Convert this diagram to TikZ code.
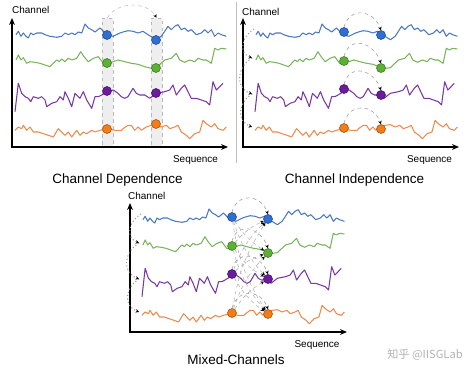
\documentclass[tikz,border=0pt]{standalone}
\usepackage{fontspec}
\setmainfont{Liberation Sans}
\newfontfamily\cjkfont{Noto Sans CJK SC}
\usepackage{tikz}
\usetikzlibrary{arrows.meta}

\definecolor{lblue}{HTML}{4A78C2}
\definecolor{lgreen}{HTML}{78B45A}
\definecolor{lpurple}{HTML}{7838A6}
\definecolor{lorange}{HTML}{EE8A4C}
\definecolor{dblue}{HTML}{2F6FD4}
\definecolor{dgreen}{HTML}{5CB034}
\definecolor{dpurple}{HTML}{6A1C9C}
\definecolor{dorange}{HTML}{F27C18}

\newcommand{\serB}{(1,34.7) -- (3.3,31.3) -- (6,36.3) -- (8.3,33) -- (11,36.3) -- (13.3,38) -- (15.7,33) -- (18.3,34.7) -- (21.7,33) -- (26.7,33) -- (30,34.7) -- (35,36.3) -- (41.7,37.3) -- (46.7,36.3) -- (50,33) -- (53.3,34.7) -- (56.7,33) -- (60,34.7) -- (63.3,32) -- (66.7,33) -- (70,24) -- (73.3,28) -- (76.7,29.7) -- (80,32) -- (85,28) -- (92,35) -- (98,36.3) -- (105,33) -- (108,32) -- (113,30.7) -- (118,31.3) -- (123,33) -- (128,31.3) -- (133,34.7) -- (141.3,39.7) -- (146.3,36.3) -- (149.7,31.3) -- (153,26.3) -- (156.3,29.7) -- (159.7,26.3) -- (163,24.7) -- (166.3,29.7) -- (169.7,28) -- (173,31.3) -- (176.3,29.7) -- (181.3,34.7) -- (186.3,33) -- (189.7,29.7) -- (193,33) -- (196.3,29.7) -- (199.7,36.3) -- (203,33) -- (206.3,34.7) -- (211.3,36.3)}
\newcommand{\serG}{(1,60) -- (3.3,55) -- (6,60) -- (8.3,57.7) -- (11.7,63.3) -- (15,61.7) -- (20,62.3) -- (25,63.3) -- (30,65) -- (35,66.7) -- (38.3,63.3) -- (41.7,60) -- (44.3,61.7) -- (46.7,59) -- (50,61.7) -- (53.3,58.3) -- (56.7,60) -- (61.7,58.3) -- (65.7,51.7) -- (69,56.7) -- (73.3,61.7) -- (78.3,58.3) -- (83.3,56.7) -- (88.3,63.3) -- (92.3,63.3) -- (98,61.7) -- (103,60) -- (109.7,61.7) -- (116.3,63.3) -- (123,64.3) -- (129.7,66.7) -- (136.3,68.3) -- (141.3,67.7) -- (149.7,60) -- (156.3,58.3) -- (161.3,53.3) -- (164.7,60) -- (169.7,62.3) -- (174.7,60) -- (179.7,61.7) -- (183,58.3) -- (188,60) -- (191.3,60) -- (196.3,63.3) -- (199.7,48.3) -- (203,50) -- (206.3,48.3) -- (211.3,49)}
\newcommand{\serP}{(0,111.7) -- (3.3,83.3) -- (6.7,93.3) -- (10,96.7) -- (13.3,98.3) -- (15.7,101.7) -- (18.3,96.7) -- (23.3,98.3) -- (26.7,96.7) -- (30,100) -- (31.7,106.7) -- (36.7,103.3) -- (41.7,101.7) -- (45,96.7) -- (48.3,100) -- (50,91.7) -- (53.3,98.3) -- (56.7,106.7) -- (60,93.3) -- (65,98.3) -- (68.3,91.7) -- (71.7,100) -- (76.7,108.3) -- (80,96.7) -- (83.3,96.7) -- (86.7,95) -- (92.3,91.7) -- (98.3,90) -- (103,93.3) -- (106.3,96.7) -- (109.7,98.3) -- (113,96.7) -- (118,88.3) -- (121.3,93.3) -- (124.7,95) -- (129.7,95) -- (134.7,98.3) -- (141.3,93.3) -- (149.7,91.7) -- (154.7,90) -- (158,85) -- (161.3,95) -- (166.3,88.3) -- (169.7,85) -- (173,91.7) -- (176.3,98.3) -- (181.3,98.3) -- (186.3,100) -- (191.3,101.7) -- (194.7,105) -- (198,81.7) -- (201.3,90) -- (204.7,86.7) -- (208,83.3)}
\newcommand{\serO}{(0,130.3) -- (3.3,127) -- (6.7,128.7) -- (8.3,125.3) -- (11.7,130.3) -- (15,127) -- (18.3,132) -- (23.3,132) -- (28.3,133.7) -- (33.3,135.3) -- (38.3,137) -- (43.3,128.7) -- (46.7,132) -- (50,135.3) -- (53.3,132) -- (56.7,137) -- (61.7,130.3) -- (65,135.3) -- (68.3,132) -- (71.7,133.7) -- (76.7,130.3) -- (80,132) -- (85,130.3) -- (92.3,128.7) -- (100,130.3) -- (106.7,130.3) -- (108,128.7) -- (113,125.3) -- (116.3,125.3) -- (119.7,130.3) -- (123,127) -- (126.3,130.3) -- (131.3,127) -- (136.3,125.3) -- (141.3,124.7) -- (146.3,127) -- (151.3,125.3) -- (154.7,128.7) -- (159.7,127) -- (163,125.3) -- (166.3,132) -- (171.3,135.3) -- (174.7,138.7) -- (179.7,133.7) -- (184.7,132) -- (188,120.3) -- (191.3,123.7) -- (196.3,127) -- (199.7,123.7) -- (203,128.7) -- (208,130.3) -- (211.3,127)}

\newcommand{\drawseries}[1]{%
  \draw[lineB] \serB;
  \draw[lineG] \serG;
  \draw[lineP] \serP;
  \draw[lineO] \serO;
  \coordinate (#1B) at (-1,29);
  \coordinate (#1G) at (-3,58);
  \coordinate (#1P) at (-3,94);
  \coordinate (#1O) at (-3,127);
}

\begin{document}
\begin{tikzpicture}[x=0.03cm,y=-0.03cm,
    axis/.style={line width=0.9pt,arrows={Stealth[length=6pt,width=5pt]-Stealth[length=6pt,width=5pt]}},
    lineB/.style={draw=lblue,line width=0.9pt,line join=round},
    lineG/.style={draw=lgreen,line width=0.9pt,line join=round},
    lineP/.style={draw=lpurple,line width=0.9pt,line join=round},
    lineO/.style={draw=lorange,line width=0.9pt,line join=round},
    dot/.style={circle,inner sep=0pt,minimum size=0.27cm,line width=0.5pt},
    dotB/.style={dot,fill=dblue,draw=dblue!70!black},
    dotG/.style={dot,fill=dgreen,draw=dgreen!70!black},
    dotP/.style={dot,fill=dpurple,draw=dpurple!70!black},
    dotO/.style={dot,fill=dorange,draw=dorange!70!black},
    col/.style={draw=gray!55,dashed,fill=gray!13,minimum width=0.33cm,minimum height=3.87cm,inner sep=0pt},
    hop/.style={draw=gray!75,dashed,line width=0.5pt,-{Stealth[length=3pt,width=3pt,black]}},
    chain/.style={draw=gray!80,dotted,line width=0.9pt,looseness=1.3,-{Stealth[length=3pt,width=3pt,black]}},
    lab/.style={font=\fontsize{8.5}{10}\selectfont,inner sep=0pt},
    title/.style={font=\fontsize{11.5}{14}\selectfont,inner sep=0pt}]

  \useasboundingbox (0,0) rectangle (474,374);

  \node[col] (dc1) at (107.5,82.5) {};
  \node[col] (dc2) at (156.5,82.5) {};
  \coordinate (dy) at (12,18);
  \coordinate (dx) at (228,147);
  \draw[axis] (dy) |- (dx);
  \begin{scope}[shift={(15,0)}]
    \drawseries{d}
  \end{scope}
  \node[dotB] (dB1) at (107,35) {};
  \node[dotG] (dG1) at (107,63) {};
  \node[dotP] (dP1) at (107,91) {};
  \node[dotO] (dO1) at (107,129) {};
  \node[dotB] (dB2) at (156,40) {};
  \node[dotG] (dG2) at (156,68) {};
  \node[dotP] (dP2) at (156,93) {};
  \node[dotO] (dO2) at (156,124) {};
  \draw[hop,draw=gray!50] (dc1.north) to[out=60,in=120] (dc2.north);
  \node[lab,anchor=west] (dch) at (12,10) {Channel};
  \node[lab] (dseq) at (195.5,160) {Sequence};
  \node[title] (dcap) at (117.5,180) {Channel Dependence};

  \coordinate (sepT) at (236,2);
  \coordinate (sepB) at (236,163);
  \draw[gray!50,line width=0.6pt] (sepT) -- (sepB);

  \coordinate (iy) at (243,18);
  \coordinate (ix) at (459,147);
  \draw[axis] (iy) |- (ix);
  \begin{scope}[shift={(255,0)},xscale=0.958]
    \drawseries{i}
  \end{scope}
  \draw[chain] (iB) to[out=210,in=160] (iG);
  \draw[chain] (iG) to[out=210,in=160] (iP);
  \draw[chain] (iP) to[out=210,in=160] (iO);
  \node[dotB] (iB1) at (344,32) {};
  \node[dotG] (iG1) at (344,61) {};
  \node[dotP] (iP1) at (344,89) {};
  \node[dotO] (iO1) at (344,128) {};
  \node[dotB] (iB2) at (381,35) {};
  \node[dotG] (iG2) at (381,68) {};
  \node[dotP] (iP2) at (381,95) {};
  \node[dotO] (iO2) at (381,129) {};
  \foreach \c in {B,G,P,O}
    \draw[hop] (i\c1.north) to[out=75,in=110,looseness=1.5] (i\c2.north);
  \node[lab,anchor=west] (ich) at (242,12) {Channel};
  \node[lab] (iseq) at (429.5,160) {Sequence};
  \node[title] (icap) at (354.5,180) {Channel Independence};

  \coordinate (my) at (130,203);
  \coordinate (mx) at (347,332);
  \draw[axis] (my) |- (mx);
  \begin{scope}[shift={(142,185)},xscale=0.958]
    \drawseries{m}
  \end{scope}
  \draw[chain] (mB) to[out=210,in=160] (mG);
  \draw[chain] (mG) to[out=210,in=160] (mP);
  \draw[chain] (mP) to[out=210,in=160] (mO);
  \node[dotB] (mB1) at (232,217) {};
  \node[dotG] (mG1) at (232,246) {};
  \node[dotP] (mP1) at (232,274) {};
  \node[dotO] (mO1) at (232,313) {};
  \node[dotB] (mB2) at (268,219) {};
  \node[dotG] (mG2) at (268,253) {};
  \node[dotP] (mP2) at (268,279) {};
  \node[dotO] (mO2) at (268,314) {};
  \foreach \c in {B,G,P,O}
    \draw[hop] (m\c1.north) to[out=75,in=110,looseness=1.5] (m\c2.north);
  \foreach \a/\b in {B/G,B/P,B/O,G/P,G/O,P/O}
    \draw[hop,draw=gray!60] (m\a1) to[bend right=12] (m\b2);
  \foreach \a/\b in {G/B,P/B,P/G,O/B,O/G,O/P}
    \draw[hop,draw=gray!60] (m\a1) to[bend left=12] (m\b2);
  \node[lab,anchor=west] (mch) at (128,196) {Channel};
  \node[lab] (mseq) at (317,345) {Sequence};
  \node[title] (mcap) at (236,360) {Mixed-Channels};

  \node[font=\cjkfont\fontsize{9.5}{11}\selectfont,text=gray!60,inner sep=0pt] (mark) at (425,355) {知乎 @IISGLab};
\end{tikzpicture}
\end{document}
